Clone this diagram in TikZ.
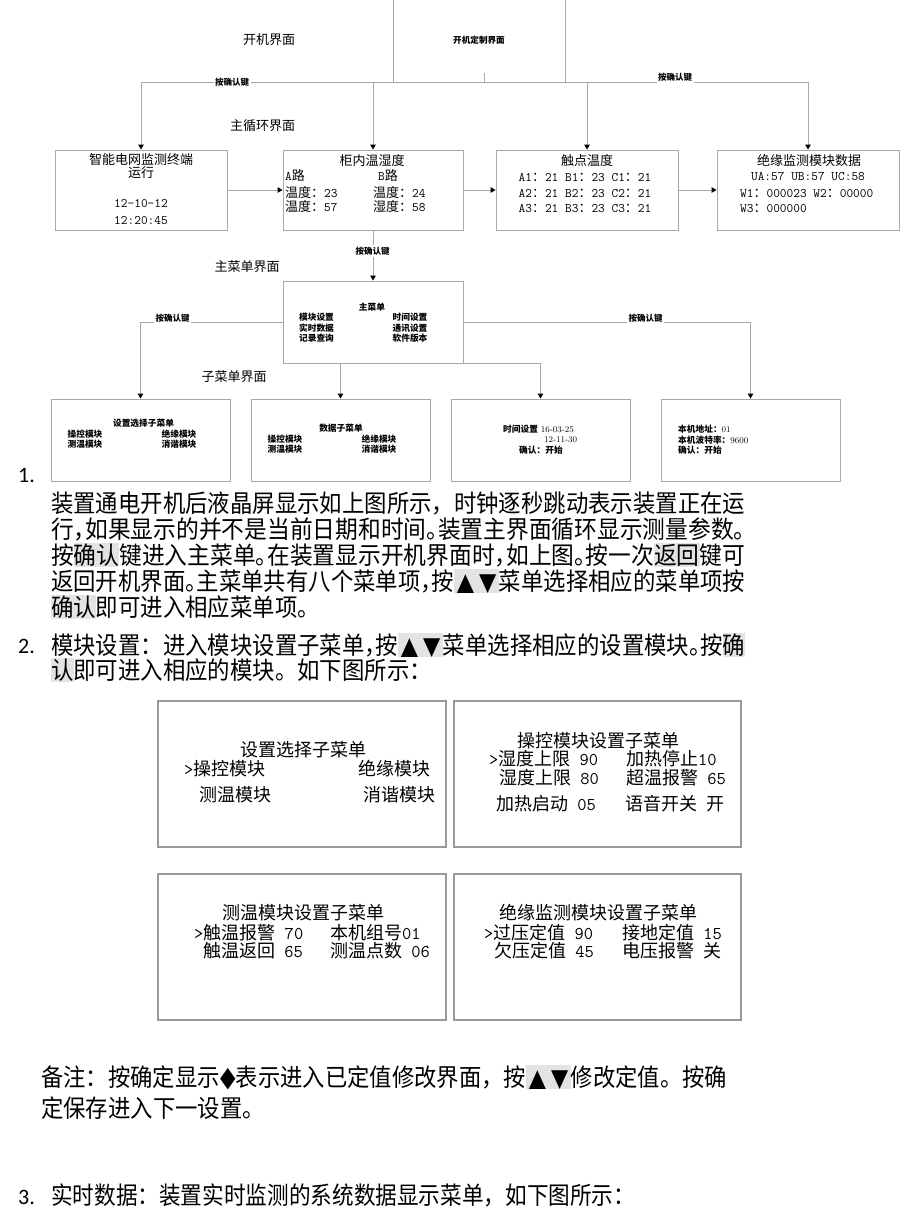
\documentclass[tikz,border=0pt]{standalone}
\usepackage{fontspec}
\usetikzlibrary{arrows.meta}
\newfontfamily\zhf{Noto Sans CJK SC}
\newfontfamily\djv{DejaVu Sans}
\newfontfamily\carl{Carlito}
\definecolor{lgray}{HTML}{A8A8A8}
\definecolor{bgray}{HTML}{999999}
\definecolor{hlg}{HTML}{E3E3E3}
\newcommand\mono[1]{{\ttfamily #1}}
\newcommand\ser[1]{{\rmfamily\mdseries #1}}
\newcommand\hpun[1]{\makebox[0.5em][l]{#1}}
\newcommand\hlt[1]{{\setlength\fboxsep{0pt}\colorbox{hlg}{\rule[-0.12em]{0pt}{0.98em}#1}}}
\newcommand\tri{\makebox[1em]{\djv ▲}\makebox[1em]{\djv ▼}}
\newcommand\dia{\makebox[0.72em]{\djv\scalebox{0.9}[1.15]{◆}}}
\newcommand\jline[2]{\resizebox{#1}{\height}{#2}}
\newcommand\nline[1]{\scalebox{0.914}[1]{#1}}
\begin{document}
\begin{tikzpicture}[x=1pt,y=-1pt,
  dbox/.style={draw=lgray, line width=0.9pt, inner sep=0pt},
  dbig/.style={draw=bgray, line width=1.2pt, inner sep=0pt},
  dlnk/.style={draw=lgray, line width=0.9pt},
  darr/.style={draw=lgray, line width=0.9pt, -{Triangle[width=5.5pt,length=5pt,color=black]}},
  dlbl/.style={font=\zhf\bfseries\fontsize{8.5}{10}\selectfont, fill=white, inner sep=1.5pt},
  dtxt/.style={font=\zhf\fontsize{13}{15}\selectfont, inner sep=0pt},
  dsm/.style={font=\zhf\bfseries\fontsize{8.7}{10}\selectfont, inner sep=0pt},
  dbt/.style={font=\zhf\fontsize{18}{20}\selectfont, inner sep=0pt},
  dpara/.style={font=\zhf\fontsize{24.5}{28}\selectfont, inner sep=0pt, anchor=base west},
  dnum/.style={font=\carl\fontsize{22}{24}\selectfont, inner sep=0pt, anchor=base west}]
\fill[white] (0,0) rectangle (900,1212);
\useasboundingbox (0,0) rectangle (900,1212);

% ---------- top diagram ----------
\node[dbox, minimum width=172pt, minimum height=83pt, font=\zhf\bfseries\fontsize{8.6}{10}\selectfont] (boot) at (479,40.5) {开机定制界面};
\node[dtxt] (tkj) at (269,40) {开机界面};
\node[dtxt] (tzx) at (262.5,126) {主循环界面};
\node[dtxt] (tzc) at (247,267) {主菜单界面};
\node[dtxt] (tzi) at (234,377) {子菜单界面};

\node[dbox, minimum width=172pt, minimum height=80pt] (b1) at (141,190) {};
\node[dbox, minimum width=180pt, minimum height=80pt] (b2) at (373,190) {};
\node[dbox, minimum width=182pt, minimum height=80pt] (b3) at (587,190) {};
\node[dbox, minimum width=182pt, minimum height=80pt] (b4) at (808,190) {};

\node[dtxt] (t11) at (141,160) {智能电网监测终端};
\node[dtxt] (t12) at (141,173) {运行};
\node[dtxt] (t13) at (141,204) {\mono{12-10-12}};
\node[dtxt] (t14) at (141,221) {\mono{12:20:45}};

\node[dtxt] (t21) at (372,161) {柜内温湿度};
\node[dtxt, anchor=west] (t22) at (285,176) {\mono{A}路};
\node[dtxt, anchor=west] (t23) at (378,176) {\mono{B}路};
\node[dtxt, anchor=west] (t24) at (285,193) {温度：\mono{23}};
\node[dtxt, anchor=west] (t25) at (373,193) {温度：\mono{24}};
\node[dtxt, anchor=west] (t26) at (285,207) {温度：\mono{57}};
\node[dtxt, anchor=west] (t27) at (373,207) {湿度：\mono{58}};

\node[dtxt] (t31) at (587,161) {触点温度};
\node[dtxt] (t32) at (585,177) {\mono{A1}：\mono{21 B1}：\mono{23 C1}：\mono{21}};
\node[dtxt] (t33) at (585,193) {\mono{A2}：\mono{21 B2}：\mono{23 C2}：\mono{21}};
\node[dtxt] (t34) at (585,208) {\mono{A3}：\mono{21 B3}：\mono{23 C3}：\mono{21}};

\node[dtxt] (t41) at (809,161) {绝缘监测模块数据};
\node[dtxt] (t42) at (808,177) {\mono{UA:57 UB:57 UC:58}};
\node[dtxt, anchor=west] (t43) at (740,193) {\mono{W1}：\mono{000023 W2}：\mono{00000}};
\node[dtxt, anchor=west] (t44) at (740,208) {\mono{W3}：\mono{000000}};

\coordinate (stub) at (484,73);
\draw[darr] (boot.south west) -| (b1.north);
\draw[darr] (boot.south west) -| (b2.north);
\draw[darr] (stub) -- (stub |- boot.south) -| (b3.north);
\draw[darr] (boot.south east) -| (b4.north);
\node[dlbl] (k1) at (232,82) {按确认键};
\node[dlbl] (k2) at (675,77) {按确认键};

\draw[darr] (b1.east) -- (b2.west);
\draw[darr] (b2.east) -- (b3.west);
\draw[darr] (b3.east) -- (b4.west);

% ---------- main menu ----------
\node[dbox, minimum width=180pt, minimum height=82pt] (M) at (373,322) {};
\node[dsm] (m0) at (372,307) {主菜单};
\node[dsm] (m1) at (316.5,317) {模块设置};
\node[dsm] (m2) at (410,317) {时间设置};
\node[dsm] (m3) at (316.5,328) {实时数据};
\node[dsm] (m4) at (410,328) {通讯设置};
\node[dsm] (m5) at (316.5,338) {记录查询};
\node[dsm] (m6) at (410,338) {软件版本};

\draw[darr] (b2.south) -- (M.north);
\node[dlbl] (k3) at (372.5,251) {按确认键};

\node[dbox, minimum width=179pt, minimum height=82pt] (s1) at (140.5,440) {};
\node[dbox, minimum width=179pt, minimum height=82pt] (s2) at (340.5,440) {};
\node[dbox, minimum width=179pt, minimum height=82pt] (s3) at (540.5,440) {};
\node[dbox, minimum width=179pt, minimum height=82pt] (s4) at (750.5,440) {};

\draw[darr] (M.west) -| (s1.north);
\draw[darr] (M.east) -| (s4.north);
\draw[darr] (M.south -| s2.north) -- (s2.north);
\draw[darr] (M.south east) -| (s3.north);
\node[dlbl] (k4) at (172.5,318) {按确认键};
\node[dlbl] (k5) at (645.5,318) {按确认键};

\node[dsm] (u10) at (143.5,423) {设置选择子菜单};
\node[dsm] (u11) at (85,434) {操控模块};
\node[dsm] (u12) at (179,434) {绝缘模块};
\node[dsm] (u13) at (85,444) {测温模块};
\node[dsm] (u14) at (179,444) {消谐模块};

\node[dsm] (u20) at (341,428) {数据子菜单};
\node[dsm] (u21) at (285,439) {操控模块};
\node[dsm] (u22) at (379,439) {绝缘模块};
\node[dsm] (u23) at (285,449) {测温模块};
\node[dsm] (u24) at (379,449) {消谐模块};

\node[dsm, anchor=west] (u31) at (503,429) {时间设置\ser{\ 16-03-25}};
\node[dsm, anchor=west] (u32) at (544,440) {\ser{12-11-30}};
\node[dsm, anchor=west] (u33) at (519,450) {确认：开始};

\node[dsm, anchor=west] (u41) at (678,429) {本机地址：\ser{01}};
\node[dsm, anchor=west] (u42) at (678,440) {本机波特率：\ser{9600}};
\node[dsm, anchor=west] (u43) at (678,450) {确认：开始};

% ---------- paragraphs ----------
\node[dnum] (n1) at (18,482) {1.};
\node[dpara] (p1) at (51,512) {\jline{694pt}{装置通电开机后液晶屏显示如上图所示，时钟逐秒跳动表示装置正在运}};
\node[dpara] (p2) at (51,538) {\jline{694pt}{行\hpun{，}如果显示的并不是当前日期和时间\hpun{。}装置主界面循环显示测量参数\hpun{。}}};
\node[dpara] (p3) at (51,564) {\jline{694pt}{按\hlt{确认}键进入主菜单\hpun{。}在装置显示开机界面时\hpun{，}如上图\hpun{。}按一次\hlt{返回}键可}};
\node[dpara] (p4) at (51,590) {\jline{694pt}{返回开机界面\hpun{。}主菜单共有八个菜单项\hpun{，}按\hlt{\tri}菜单选择相应的菜单项按}};
\node[dpara] (p5) at (51,616) {\nline{\hlt{确认}即可进入相应菜单项。}};
\node[dnum] (n2) at (18,653) {2.};
\node[dpara] (p6) at (51,654) {\jline{694pt}{模块设置：进入模块设置子菜单\hpun{，}按\hlt{\tri}菜单选择相应的设置模块\hpun{。}按\hlt{确}}};
\node[dpara] (p7) at (51,679) {\nline{\hlt{认}即可进入相应的模块。如下图所示：}};

% ---------- lower boxes ----------
\node[dbig, minimum width=288pt, minimum height=146pt] (L1) at (302,774) {};
\node[dbig, minimum width=287pt, minimum height=146pt] (L2) at (597.5,774) {};
\node[dbig, minimum width=288pt, minimum height=146pt] (L3) at (302,947) {};
\node[dbig, minimum width=287pt, minimum height=146pt] (L4) at (597.5,947) {};

\node[dbt] (v10) at (303,750) {设置选择子菜单};
\node[dbt, anchor=west] (v11) at (184,769) {\mono{>}操控模块};
\node[dbt, anchor=west] (v12) at (358,769) {绝缘模块};
\node[dbt, anchor=west] (v13) at (199,795) {测温模块};
\node[dbt, anchor=west] (v14) at (363,795) {消谐模块};

\node[dbt] (v20) at (598,741) {操控模块设置子菜单};
\node[dbt, anchor=west] (v21) at (489,759) {\mono{>}湿度上限\mono{\ 90}};
\node[dbt, anchor=west] (v22) at (626,759) {加热停止\mono{10}};
\node[dbt, anchor=west] (v23) at (499,778) {湿度上限\mono{\ 80}};
\node[dbt, anchor=west] (v24) at (626,778) {超温报警\mono{\ 65}};
\node[dbt, anchor=west] (v25) at (496,804) {加热启动\mono{\ 05}};
\node[dbt, anchor=west] (v26) at (625,804) {语音开关\hspace{0.5em}开};

\node[dbt] (v30) at (303,913) {测温模块设置子菜单};
\node[dbt, anchor=west] (v31) at (194,933) {\mono{>}触温报警\mono{\ 70}};
\node[dbt, anchor=west] (v32) at (330,933) {本机组号\mono{01}};
\node[dbt, anchor=west] (v33) at (203,951) {触温返回\mono{\ 65}};
\node[dbt, anchor=west] (v34) at (330,951) {测温点数\mono{\ 06}};

\node[dbt] (v40) at (598,913) {绝缘监测模块设置子菜单};
\node[dbt, anchor=west] (v41) at (484,933) {\mono{>}过压定值\mono{\ 90}};
\node[dbt, anchor=west] (v42) at (622,933) {接地定值\mono{\ 15}};
\node[dbt, anchor=west] (v43) at (494,951) {欠压定值\mono{\ 45}};
\node[dbt, anchor=west] (v44) at (622,951) {电压报警\hspace{0.5em}关};

% ---------- notes ----------
\node[dpara] (p8) at (41,1086) {\jline{686pt}{备注：按确定显示\dia 表示进入已定值修改界面，按\hlt{\tri}修改定值。按确}};
\node[dpara] (p9) at (41,1117) {\nline{定保存进入下一设置。}};
\node[dnum] (n3) at (18,1204) {3.};
\node[dpara] (p10) at (51,1204) {\jline{584pt}{实时数据：装置实时监测的系统数据显示菜单，如下图所示：}};
\end{tikzpicture}
\end{document}
